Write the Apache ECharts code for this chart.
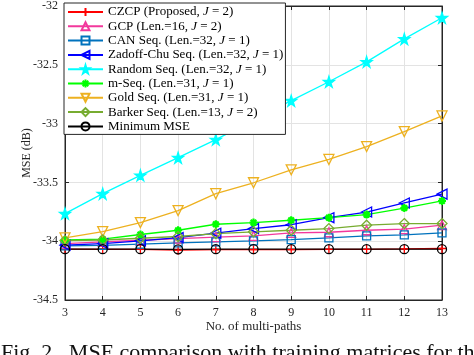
<!DOCTYPE html>
<html><head><meta charset="utf-8">
<script src="https://cdn.jsdelivr.net/npm/echarts@6/dist/echarts.min.js"></script>
<style>html,body{margin:0;padding:0;background:#fff}#c{width:474px;height:355px}</style>
</head><body><div id="c"></div>
<script>
const xVals = [3,4,5,6,7,8,9,10,11,12,13];
const yTicks = [-34.5,-34,-33.5,-33,-32.5,-32];
const czcp    = [-34.068,-34.070,-34.070,-34.076,-34.071,-34.072,-34.071,-34.070,-34.069,-34.066,-34.062];
const gcp     = [-34.020,-34.005,-33.992,-33.978,-33.965,-33.955,-33.930,-33.924,-33.907,-33.898,-33.864];
const can     = [-34.040,-34.035,-34.025,-34.015,-34.005,-33.997,-33.986,-33.972,-33.955,-33.946,-33.930];
const zc      = [-34.034,-34.020,-33.997,-33.969,-33.932,-33.893,-33.860,-33.800,-33.752,-33.675,-33.600];
const randomS = [-33.765,-33.596,-33.440,-33.290,-33.136,-32.970,-32.805,-32.644,-32.475,-32.280,-32.100];
const mseq    = [-33.990,-33.983,-33.943,-33.907,-33.856,-33.842,-33.822,-33.800,-33.774,-33.718,-33.658];
const gold    = [-33.972,-33.918,-33.842,-33.740,-33.596,-33.503,-33.393,-33.305,-33.195,-33.068,-32.935];
const barker  = [-33.995,-33.990,-33.975,-33.960,-33.935,-33.920,-33.907,-33.893,-33.864,-33.850,-33.850];
const minMse  = [-34.068,-34.068,-34.068,-34.069,-34.068,-34.068,-34.068,-34.068,-34.068,-34.068,-34.068];

const names = [
  'CZCP (Proposed, J = 2)',
  'GCP (Len.=16, J = 2)',
  'CAN Seq. (Len.=32, J = 1)',
  'Zadoff-Chu Seq. (Len.=32, J = 1)',
  'Random Seq. (Len.=32, J = 1)',
  'm-Seq. (Len.=31, J = 1)',
  'Gold Seq. (Len.=31, J = 1)',
  'Barker Seq. (Len.=13, J = 2)',
  'Minimum MSE'
];
const plusPath = 'path://M5,0L5,10M0,5L10,5';
const astPath = 'path://M5,0L5,10M0,5L10,5M1.5,1.5L8.5,8.5M8.5,1.5L1.5,8.5';
const starPath = 'path://M50,0L61,35L98,35L68,57L79,91L50,70L21,91L32,57L2,35L39,35Z';
const cfg = [
  {d: czcp,    c: '#FF0000', s: plusPath, sz: 9, fill: false, rot: 0},
  {d: gcp,     c: '#F2389C', s: 'triangle', sz: 9, fill: false, rot: 0},
  {d: can,     c: '#0072BD', s: 'rect', sz: 8, fill: false, rot: 0},
  {d: zc,      c: '#0000FF', s: 'triangle', sz: 10, fill: false, rot: 90},
  {d: randomS, c: '#00FFFF', s: starPath, sz: 11, fill: true, rot: 0},
  {d: mseq,    c: '#00FF00', s: astPath, sz: 8, fill: false, rot: 0},
  {d: gold,    c: '#EDB120', s: 'triangle', sz: 10, fill: false, rot: 180},
  {d: barker,  c: '#77AC30', s: 'diamond', sz: 10, fill: false, rot: 0},
  {d: minMse,  c: '#000000', s: 'circle', sz: 9, fill: false, rot: 0}
];

const series = cfg.map((o, i) => ({
  name: names[i],
  type: 'line',
  data: xVals.map((x, k) => [x, o.d[k]]),
  symbol: o.s,
  symbolSize: o.sz,
  symbolRotate: o.rot,
  showAllSymbol: true,
  z: 2,
  lineStyle: {color: o.c, width: 1.3},
  itemStyle: {color: o.fill ? o.c : 'rgba(255,255,255,0)', borderColor: o.c, borderWidth: o.s === astPath ? 2.2 : 1.3},
  emphasis: {disabled: true},
  animation: false
}));

const serif = 'Liberation Serif';
const rich = {
  n: {fontFamily: serif, fontSize: 13, color: '#000', lineHeight: 14},
  i: {fontFamily: serif, fontSize: 13, fontStyle: 'italic', color: '#000', lineHeight: 14}
};

const chart = echarts.init(document.getElementById('c'), null, {renderer: 'canvas'});
chart.setOption({
  animation: false,
  backgroundColor: '#fff',
  grid: {left: 65, right: 32, top: 5, bottom: 55, show: true, borderColor: '#262626', borderWidth: 1, backgroundColor: 'transparent'},
  legend: {
    left: 64, top: 3, orient: 'vertical', z: 20,
    backgroundColor: '#fff', borderColor: '#262626', borderWidth: 1,
    padding: [2, 2, 1, 3],
    itemWidth: 35, itemHeight: 10, itemGap: 0.3,
    selectedMode: false,
    textStyle: {fontFamily: serif, fontSize: 13, color: '#000', lineHeight: 14, rich: rich},
    formatter: function (name) {
      const parts = name.split('J');
      if (parts.length === 1) return '{n|' + name + '}';
      return '{n|' + parts[0] + '}{i|J}{n|' + parts[1] + '}';
    },
    data: names
  },
  xAxis: [{
    type: 'value', min: 3, max: 13, interval: 1,
    name: 'No. of multi-paths', nameLocation: 'middle', nameGap: 20, nameMoveOverlap: false,
    nameTextStyle: {fontFamily: serif, fontSize: 13, color: '#262626'},
    axisLine: {show: true, lineStyle: {color: '#262626'}},
    axisTick: {show: true, inside: true, length: 4, lineStyle: {color: '#262626'}},
    axisLabel: {fontFamily: serif, fontSize: 12, color: '#262626', margin: 7},
    splitLine: {show: true, lineStyle: {color: '#E3E3E3', width: 1}}
  }, {
    type: 'value', min: 3, max: 13, interval: 1, position: 'top',
    axisLine: {show: true, lineStyle: {color: '#262626'}},
    axisTick: {show: true, inside: true, length: 4, lineStyle: {color: '#262626'}},
    axisLabel: {show: false}, splitLine: {show: false}
  }],
  yAxis: [{
    type: 'value', min: yTicks[0], max: yTicks[yTicks.length - 1], interval: 0.5,
    name: 'MSE (dB)', nameLocation: 'middle', nameGap: 32, nameMoveOverlap: false,
    nameTextStyle: {fontFamily: serif, fontSize: 12, color: '#262626'},
    axisLine: {show: true, lineStyle: {color: '#262626'}},
    axisTick: {show: true, inside: true, length: 4, lineStyle: {color: '#262626'}},
    axisLabel: {fontFamily: serif, fontSize: 12, color: '#262626', margin: 7},
    splitLine: {show: true, lineStyle: {color: '#E3E3E3', width: 1}}
  }, {
    type: 'value', min: yTicks[0], max: yTicks[yTicks.length - 1], interval: 0.5, position: 'right',
    axisLine: {show: true, lineStyle: {color: '#262626'}},
    axisTick: {show: true, inside: true, length: 4, lineStyle: {color: '#262626'}},
    axisLabel: {show: false}, splitLine: {show: false}
  }],
  graphic: [{
    type: 'text', left: 1, top: 342,
    style: {text: 'Fig. 2.  MSE comparison with training matrices for the', fontFamily: serif, fontSize: 22, fill: '#111'}
  }],
  series: series
});
</script></body></html>
